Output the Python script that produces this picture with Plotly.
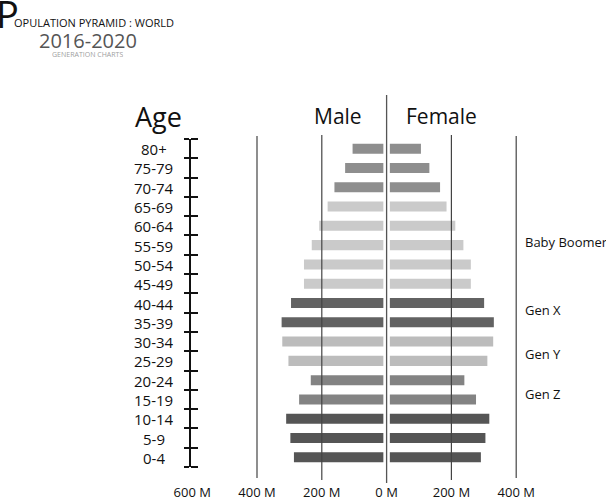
import plotly.graph_objects as go

# ---- data (top to bottom as read) ----
ages = ["80+", "75-79", "70-74", "65-69", "60-64", "55-59", "50-54", "45-49",
        "40-44", "35-39", "30-34", "25-29", "20-24", "15-19", "10-14", "5-9", "0-4"]
male = [105, 128, 161, 182, 208, 231, 255, 255, 295, 324, 322, 303, 234, 270, 310, 297, 286]
female = [106, 132, 165, 185, 212, 237, 260, 260, 301, 331, 329, 311, 240, 276, 317, 305, 291]
bar_colors = ["#8e8e8e", "#8e8e8e", "#8e8e8e",
              "#cacaca", "#cacaca", "#cacaca", "#cacaca", "#cacaca",
              "#626262", "#626262",
              "#bcbcbc", "#bcbcbc",
              "#838383", "#838383",
              "#555555", "#555555", "#555555"]
x_tickvals = [-600, -400, -200, 0, 200, 400]
x_ticktext = ["600 M", "400 M", "200 M", "0 M", "200 M", "400 M"]
grid_vals = [-400, -200, 200, 400]
generations = ["Baby Boomer", "Gen X", "Gen Y", "Gen Z"]
generation_pos = ["55-59", "40-44|35-39", "30-34|25-29", "20-24|15-19"]

# ---- geometry helpers (design coords = screenshot pixels) ----
W, H = 606, 500
PLOT_L, PLOT_T, PLOT_B = 190, 139, 467
L, T, B, R = PLOT_L, PLOT_T, H - PLOT_B, 0
PW, PH = W - L - R, H - T - B
def px(xp):
    return (xp - L) / PW
def py(yp):
    return (H - B - yp) / PH

order = ages[::-1]  # bottom to top
n = len(ages)
def cat_index(a):
    return order.index(a)
def gen_y(spec):
    parts = spec.split("|")
    return sum(cat_index(p) for p in parts) / len(parts)

FONT = "Open Sans, Noto Sans, DejaVu Sans, sans-serif"

fig = go.Figure()
fig.add_trace(go.Bar(y=ages, x=[-v for v in male], orientation="h",
                     marker=dict(color=bar_colors, line=dict(width=0)),
                     name="Male", showlegend=False, hoverinfo="skip"))
fig.add_trace(go.Bar(y=ages, x=female, orientation="h",
                     marker=dict(color=bar_colors, line=dict(width=0)),
                     name="Female", showlegend=False, hoverinfo="skip"))
# helper traces so the tick axes exist
fig.add_trace(go.Scatter(x=[None], y=[None], yaxis="y2", showlegend=False, hoverinfo="skip"))
fig.add_trace(go.Scatter(x=[None], y=[None], yaxis="y3", showlegend=False, hoverinfo="skip"))

boundaries = [i - 0.5 for i in range(n + 1)]
CENTER = 386.6   # px of 0 M
scale = 0.324    # px per M
xmin = -(CENTER - PLOT_L) / scale
xmax = (W - CENTER) / scale

fig.update_layout(
    width=W, height=H,
    margin=dict(l=L, r=R, t=T, b=B, pad=0, autoexpand=False),
    paper_bgcolor="white", plot_bgcolor="white",
    barmode="overlay", bargap=0.48,
    font=dict(family=FONT, color="#111111"),
    xaxis=dict(range=[xmin, xmax], showgrid=False, zeroline=False, showline=False,
               automargin=False,
               tickvals=x_tickvals, ticktext=x_ticktext, ticks="outside", ticklen=13,
               tickcolor="rgba(0,0,0,0)", tickfont=dict(size=13, color="#111111")),
    yaxis=dict(type="category", categoryorder="array", categoryarray=order,
               range=[-0.5, n - 0.5], showticklabels=False, showgrid=False,
               zeroline=False, showline=False, ticks=""),
    yaxis2=dict(overlaying="y", anchor="free", position=0, side="left",
                range=[-0.5, n - 0.5], tickvals=boundaries, showticklabels=False,
                ticks="outside", ticklen=5, tickwidth=2, tickcolor="#111111",
                showline=True, linewidth=2, linecolor="#111111",
                showgrid=False, zeroline=False),
    yaxis3=dict(overlaying="y", anchor="free", position=0, side="right",
                range=[-0.5, n - 0.5], tickvals=boundaries, showticklabels=False,
                ticks="outside", ticklen=7, tickwidth=2, tickcolor="#111111",
                showline=False, showgrid=False, zeroline=False),
)

shapes = []
GAP = 10
shapes.append(dict(type="rect", xref="x", yref="paper", x0=-GAP, x1=GAP,
                   y0=py(470), y1=py(136), fillcolor="white", line=dict(width=0), layer="above"))
shapes.append(dict(type="line", xref="x", yref="paper", x0=0, x1=0,
                   y0=py(483), y1=py(95), line=dict(color="#555555", width=1.3), layer="above"))
for g in grid_vals:
    top = 135 if abs(g) == 200 else 136
    bot = 480 if abs(g) == 200 else 478
    shapes.append(dict(type="line", xref="x", yref="paper", x0=g, x1=g,
                       y0=py(bot), y1=py(top), line=dict(color="#444444", width=1.2), layer="above"))
fig.update_layout(shapes=shapes)

ann = []
# age labels, centred
for a in ages:
    ann.append(dict(x=px(153.5), xref="paper", y=a, yref="y", text=a, showarrow=False,
                    xanchor="center", yanchor="middle", height=15, valign="middle", borderpad=0,
                    font=dict(size=15, color="#111111")))
# generation labels (small vertical nudges as in the reference)
gen_shift = {"Baby Boomer": 3, "Gen X": 3, "Gen Y": -2.5, "Gen Z": -4}
for gname, spec in zip(generations, generation_pos):
    ann.append(dict(x=px(523), xref="paper", y=gen_y(spec), yref="y", text=gname, showarrow=False,
                    xanchor="left", yanchor="middle", yshift=gen_shift[gname],
                    font=dict(size=13, color="#111111")))
# headers
ann.append(dict(x=px(158), y=py(117), xref="paper", yref="paper", text="Age", showarrow=False,
                xanchor="center", yanchor="middle", font=dict(size=27, color="#111111")))
ann.append(dict(x=px(338), y=py(116), xref="paper", yref="paper", text="Male", showarrow=False,
                xanchor="center", yanchor="middle", font=dict(size=21, color="#111111")))
ann.append(dict(x=px(441), y=py(116), xref="paper", yref="paper", text="Female", showarrow=False,
                xanchor="center", yanchor="middle", font=dict(size=21, color="#111111")))
# title block
ann.append(dict(x=px(-5), y=py(14), xref="paper", yref="paper", text="P", showarrow=False,
                xanchor="left", yanchor="middle", height=28, valign="middle", borderpad=0,
                font=dict(size=38, color="#111111")))
ann.append(dict(x=px(12.5), y=py(21.5), xref="paper", yref="paper", text="OPULATION PYRAMID : WORLD",
                showarrow=False, xanchor="left", yanchor="middle", height=12, valign="middle",
                borderpad=0, font=dict(size=11, color="#111111")))
ann.append(dict(x=px(87.5), y=py(40), xref="paper", yref="paper", text="2016-2020", showarrow=False,
                xanchor="center", yanchor="middle", height=16, valign="middle", borderpad=0,
                font=dict(size=20, color="#555555")))
ann.append(dict(x=px(87.5), y=py(54), xref="paper", yref="paper", text="GENERATION CHARTS",
                showarrow=False, xanchor="center", yanchor="middle", height=7, valign="middle",
                borderpad=0, font=dict(size=7, color="#a0a0a0")))
fig.update_layout(annotations=ann)

fig.write_html("out.html", config={"displayModeBar": False},
               post_script="document.body.style.margin='0';document.body.style.overflow='hidden';")
